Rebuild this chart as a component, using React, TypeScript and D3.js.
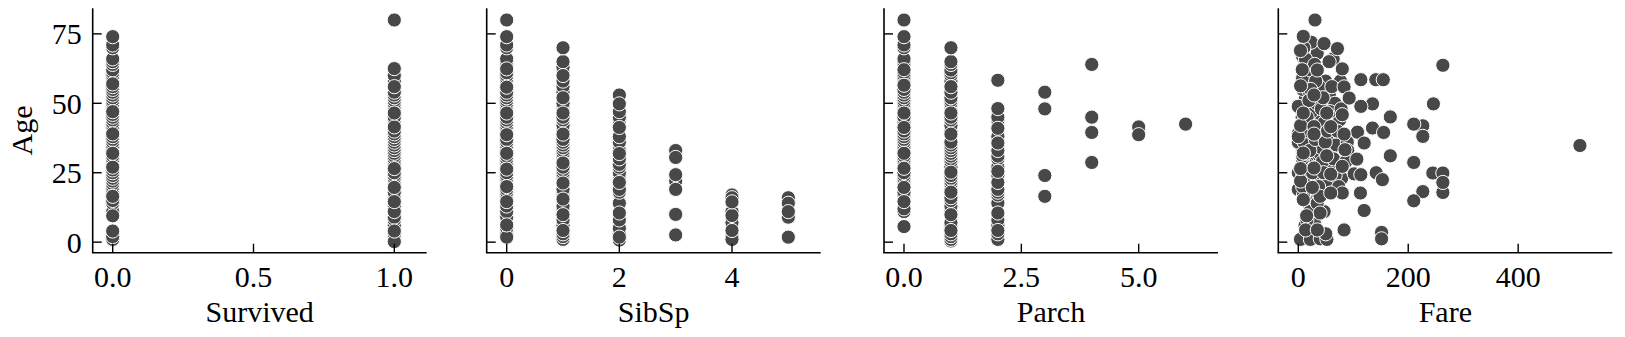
import React from "react";
import * as d3 from "d3";

// ---------- data ----------
const yLabel = "Age";
const yTicks = [0, 25, 50, 75];

// Survived
const survivedNoAges = [1, 2, 11, 14, 15, 17, 18, 19, 20, 21, 22, 23, 24, 25, 26, 28, 29, 30, 31, 33, 34, 35, 36, 37, 38, 40, 41, 42, 43, 44, 45, 46, 48, 49, 50, 51, 52, 53, 54, 55, 56, 58, 59, 60, 61, 62, 64, 65, 66, 70, 71, 16.5, 27, 32, 39, 47, 57, 74, 9.5, 4];
const survivedYesAges = [0.42, 0.75, 1, 2, 3, 5, 6, 8, 9, 12, 13, 16, 17, 18, 21, 22, 23, 24, 25, 28, 29, 30, 31, 32, 33, 34, 35, 36, 37, 38, 39, 40, 43, 44, 45, 48, 49, 50, 51, 52, 53, 54, 58, 60, 0.2, 4, 11, 14.6, 19.7, 26.5, 41.5, 46.5, 56, 62.5, 80];

// SibSp
const sibsp0Ages = [3, 5, 9, 11, 13, 16, 17, 18, 19, 21, 22, 23, 24, 25, 27, 28, 29, 30, 31, 33, 34, 35, 36, 37, 39, 40, 41, 42, 43, 44, 45, 47, 48, 49, 50, 51, 52, 53, 54, 56, 58, 59, 60, 61, 64, 65, 66, 70, 71, 1.8, 6.2, 14.6, 20, 26.3, 32, 38.7, 46.5, 55.8, 62.4, 74, 80];
const sibsp1Ages = [0.83, 1, 2, 3, 6, 8, 12, 13, 17, 18, 19, 23, 24, 25, 26, 27, 30, 31, 32, 33, 34, 35, 36, 37, 40, 42, 44, 45, 47, 48, 49, 50, 54, 56, 58, 62, 63, 65, 4.2, 9.9, 15.5, 21.3, 28.5, 38.9, 46.5, 52, 60, 70];
const sibsp2Ages = [0.75, 3, 5, 8, 14, 18, 19, 24, 25, 27, 28, 30, 33, 36, 38, 44, 45, 47, 53, 1.8, 10.5, 21.5, 31.9, 41.3, 49.8];
const sibsp3Ages = [33, 22, 19, 30.5, 24.3, 10, 2.6];
const sibsp4Ages = [17, 16, 11, 7, 2, 1, 9.6, 14.5, 4.2];
const sibsp5Ages = [16, 9, 14, 11, 1.8];

// Parch
const parch0Ages = [11, 12, 17, 18, 21, 22, 23, 24, 25, 28, 29, 30, 31, 33, 34, 35, 36, 37, 38, 39, 40, 43, 44, 45, 48, 49, 50, 51, 52, 53, 54, 55, 57, 58, 59, 60, 61, 64, 65, 66, 70, 71, 5.6, 14.6, 19.7, 26.6, 32, 41.3, 46.5, 56.5, 62.1, 74, 80];
const parch1Ages = [0.42, 1, 2, 3, 5, 6, 7, 11, 13, 15, 16, 19, 21, 22, 23, 24, 27, 29, 30, 31, 32, 33, 34, 35, 36, 40, 42, 44, 45, 48, 49, 50, 51, 52, 54, 58, 60, 61, 62, 64, 65, 4.2, 9.9, 18, 25.2, 38.9, 46.5, 56, 70];
const parch2Ages = [0.9, 1, 3, 5, 6, 8, 14, 17, 18, 19, 24, 27, 30, 31, 33, 36, 38, 44, 45, 4.2, 10.5, 21.5, 25.5, 35.7, 41, 48.1, 58.3];
const parch3Ages = [54, 48, 24, 16.5];
const parch4Ages = [64, 45, 39.5, 28.7];
const parch5Ages = [41.5, 38.7];
const parch6Ages = [42.5];

// Fare: [fare, age]
const fareAgePairs: [number, number][] = [
  [7.25, 22], [7.9, 26], [8.05, 35], [8.46, 28], [13, 27], [7.75, 19], [26, 30], [10.5, 24], [7.23, 25],
  [15.5, 29], [7.9, 33], [8.66, 21], [26.55, 44], [13, 36], [21, 18], [27.9, 23], [39.7, 32], [14.45, 28],
  [9.5, 40], [7.05, 45], [16.1, 50], [24.15, 38], [15.25, 60], [8.05, 43], [30, 52], [0, 36], [0, 25],
  [0, 49], [0, 39], [0, 19], [12.3, 6], [31.3, 9], [46.9, 11], [29.1, 7], [20.6, 3], [39.7, 2], [27.9, 12],
  [18.75, 14], [12.5, 16], [36.75, 23], [52, 31], [55, 36], [57, 28], [26, 64], [7.7, 67], [13.5, 71],
  [30.7, 60], [35.5, 45], [49.5, 58], [47.1, 43], [52.5, 21], [56.5, 53], [42.4, 34], [34.4, 68],
  [63.4, 66], [69.3, 35], [66.6, 50], [75.25, 44], [76.7, 58], [78.85, 23], [89.1, 36], [90, 33],
  [7.8, 30], [8.05, 31], [7.9, 24], [13, 32], [10.5, 36], [26, 42], [7.75, 48], [13, 52], [8.05, 55],
  [26.55, 57], [7.9, 59], [10.5, 63], [13, 66], [9.5, 17], [8.05, 20], [14.5, 23], [26, 25], [21, 33],
  [24, 47], [18, 40], [16, 45], [20.5, 54], [22.4, 62], [31, 37], [35, 27], [33, 50], [38, 56], [29.7, 64],
  [23.5, 72], [15.7, 8], [21, 11], [34.4, 14], [41.6, 18], [44, 29], [37, 20], [46, 25], [49, 36], [53, 40],
  [42, 48], [45, 52], [58, 47], [61, 56], [64, 30], [67, 24], [71, 40], [73.5, 20], [77.9, 48], [86.5, 29],
  [4, 1], [22, 1], [40, 1.2], [52, 1], [50, 3], [39.6, 10.5], [39.6, 16.5], [4.2, 22], [59, 24.5],
  [101.6, 24.6], [141.7, 25], [244.7, 24.9], [263, 24.9], [263, 17.9], [80, 17.7], [4.2, 26.5],
  [107.7, 39.6], [0, 38], [226.5, 41.9], [59, 41.6], [0, 48.9], [141, 58.5], [31.6, 58], [34.6, 62],
  [56, 65], [10, 70], [4, 69], [151.5, 3.5], [22.5, 55], [19.4, 51], [28.6, 53], [4.2, 42], [28.6, 41.6],
  [30.4, 80], [9.1, 74.1], [46.8, 71.5], [71.2, 69.7], [7.2, 62.1], [80, 62.4], [113.8, 58.5], [154.6, 58.5],
  [263, 63.7], [4.2, 56.3], [83.3, 55.9], [92.5, 51.9], [135, 49.8], [113.8, 48.9], [245.8, 49.8],
  [9.1, 46.5], [51.7, 46.5], [80, 45.9], [167.4, 45.1], [135, 41.1], [210, 42.5], [28.6, 38.9],
  [83.3, 38.9], [155.2, 39.5], [226.5, 38.1], [119.8, 35.7], [85, 33.3], [512.3, 34.8], [9.1, 32.1],
  [51.7, 31.1], [106.5, 29.9], [167.4, 31.1], [210, 28.7], [28.6, 26.7], [80, 27.3], [113.8, 24.3],
  [153, 22.5], [263, 21.5], [226.5, 18.2], [210, 14.9], [25.6, 19.7], [9.1, 15.3], [59, 17.7],
  [113, 17.7], [119.8, 11.4], [15.2, 9.5], [13.3, 4.4], [34.6, 4.4], [83.3, 4.4], [151.5, 1.2],
];

const survivedTicks = [0, 0.5, 1.0];
const sibspTicks = [0, 2, 4];
const parchTicks = [0, 2.5, 5.0];
const fareTicks = [0, 200, 400];

// ---------- build point lists ----------
const col = (x: number, ages: number[]) => ages.map((a) => [x, a] as [number, number]);

const panels = [
  {
    label: "Survived",
    ticks: survivedTicks,
    fmt: d3.format(".1f"),
    points: [...col(0, survivedNoAges), ...col(1, survivedYesAges)],
  },
  {
    label: "SibSp",
    ticks: sibspTicks,
    fmt: d3.format("d"),
    points: [
      ...col(0, sibsp0Ages), ...col(1, sibsp1Ages), ...col(2, sibsp2Ages),
      ...col(3, sibsp3Ages), ...col(4, sibsp4Ages), ...col(5, sibsp5Ages),
    ],
  },
  {
    label: "Parch",
    ticks: parchTicks,
    fmt: d3.format(".1f"),
    points: [
      ...col(0, parch0Ages), ...col(1, parch1Ages), ...col(2, parch2Ages), ...col(3, parch3Ages),
      ...col(4, parch4Ages), ...col(5, parch5Ages), ...col(6, parch6Ages),
    ],
  },
  {
    label: "Fare",
    ticks: fareTicks,
    fmt: d3.format("d"),
    points: fareAgePairs,
  },
];

// ---------- layout ----------
const W = 1625;
const H = 337;
const panelLefts = [92.7, 486.7, 884, 1278.3];
const panelWidth = 334;
const top = 8.3;
const bottom = 252.7;
const padL = 0.071;
const padR = 0.115;
const FONT = '"Liberation Serif", "DejaVu Serif", serif';
const FS = 30;
const POINT = "#484848";

const ageMin = 0.42;
const ageMax = 80;
const yPad = (ageMax - ageMin) * 0.053;
const y = d3.scaleLinear().domain([ageMin - yPad, ageMax + yPad]).range([bottom, top]);

const textStyle: React.CSSProperties = { fontFamily: FONT, fontSize: FS };

export default function App() {
  return (
    <svg width={W} height={H} style={{ position: "absolute", left: 0, top: 0, background: "#fff" }}>
      <rect width={W} height={H} fill="#fff" />
      {panels.map((p, i) => {
        const xs = p.points.map((d) => d[0]);
        const mn = d3.min(xs) as number;
        const mx = d3.max(xs) as number;
        const r = mx - mn;
        const left = panelLefts[i];
        const x = d3.scaleLinear().domain([mn - padL * r, mx + padR * r]).range([left, left + panelWidth]);
        return (
          <g key={p.label}>
            {p.points.map((d, j) => (
              <circle key={j} cx={x(d[0])} cy={y(d[1])} r={7.1} fill={POINT} stroke="#fff" strokeWidth={1} />
            ))}
            {/* spines */}
            <line x1={left} x2={left} y1={top} y2={bottom} stroke="#000" strokeWidth={1.6} />
            <line x1={left - 0.8} x2={left + panelWidth} y1={bottom} y2={bottom} stroke="#000" strokeWidth={1.6} />
            {/* y ticks */}
            {yTicks.map((t) => (
              <g key={t}>
                <line x1={left} x2={left + 9} y1={y(t)} y2={y(t)} stroke="#000" strokeWidth={1.4} />
                {i === 0 && (
                  <text x={left - 11} y={y(t)} dy="0.35em" textAnchor="end" style={textStyle} fill="#000">
                    {t}
                  </text>
                )}
              </g>
            ))}
            {/* x ticks */}
            {p.ticks.map((t) => (
              <g key={t}>
                <line x1={x(t)} x2={x(t)} y1={bottom} y2={bottom - 9} stroke="#000" strokeWidth={1.4} />
                <text x={x(t)} y={bottom + 34} textAnchor="middle" style={textStyle} fill="#000">
                  {p.fmt(t)}
                </text>
              </g>
            ))}
            <text x={left + panelWidth / 2} y={321.5} textAnchor="middle" style={textStyle} fill="#000">
              {p.label}
            </text>
          </g>
        );
      })}
      <text
        transform={`translate(32, ${(top + bottom) / 2}) rotate(-90)`}
        textAnchor="middle"
        style={textStyle}
        fill="#000"
      >
        {yLabel}
      </text>
    </svg>
  );
}
